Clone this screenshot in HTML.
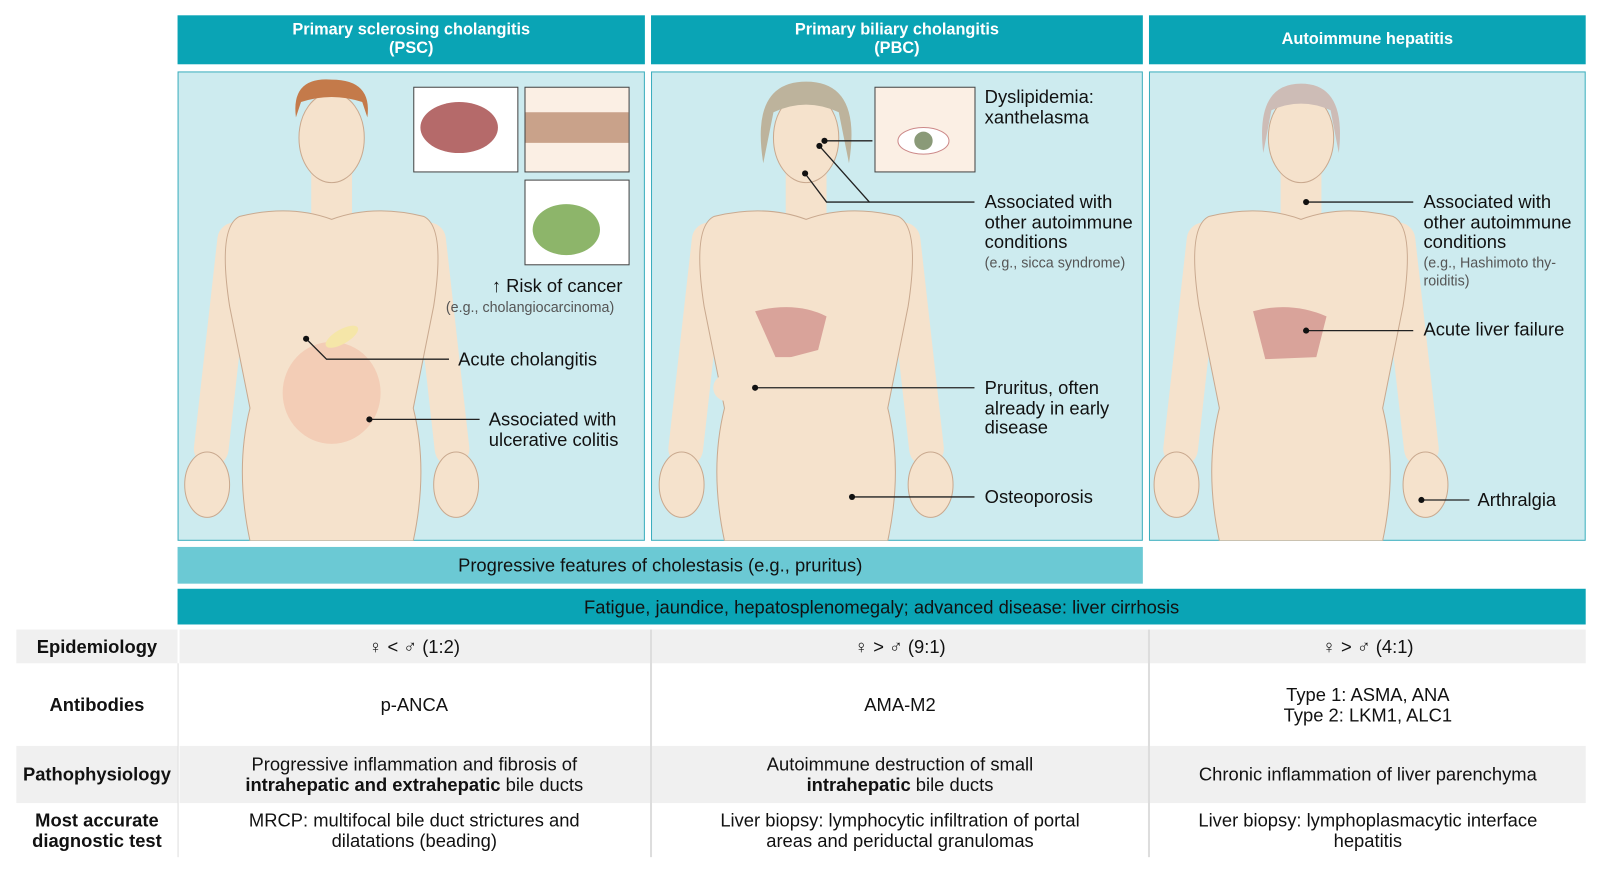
<!DOCTYPE html>
<html><head><meta charset="utf-8"><style>
*{margin:0;padding:0;box-sizing:border-box}
body{width:1600px;height:876px;background:#fff;overflow:hidden}
#w{position:absolute;left:0;top:0;width:1568px;height:858px;transform:scale(1.0204);transform-origin:0 0;font-family:"Liberation Sans","DejaVu Sans",sans-serif;color:#111}
.a{position:absolute}
.hd{background:#0aa4b5;color:#fff;font-weight:bold;font-size:16px;text-align:center;display:flex;align-items:center;justify-content:center;line-height:18px}
.c{display:flex;align-items:center;justify-content:center;text-align:center;font-size:18px;line-height:20px}
.lb{font-weight:bold}
.t{font-size:18px;line-height:19.5px}
.s{font-size:14px;color:#555;line-height:18px}
</style></head><body><div id="w">
<div class="a hd" style="left:174px;top:15px;width:458px;height:48px">Primary sclerosing cholangitis<br>(PSC)</div>
<div class="a hd" style="left:638px;top:15px;width:482px;height:48px">Primary biliary cholangitis<br>(PBC)</div>
<div class="a hd" style="left:1126px;top:15px;width:428px;height:48px">Autoimmune hepatitis</div>

<svg class="a" style="left:0;top:0" width="1568" height="858">
<defs>
<g id="body">
 <line x1="-95" y1="235" x2="-118" y2="440" stroke="#f5e2cc" stroke-width="34" stroke-linecap="round"/>
 <line x1="95" y1="235" x2="118" y2="440" stroke="#f5e2cc" stroke-width="34" stroke-linecap="round"/>
 <ellipse cx="-122" cy="475" rx="22" ry="32" fill="#f5e2cc" stroke="#c9a98f"/>
 <ellipse cx="122" cy="475" rx="22" ry="32" fill="#f5e2cc" stroke="#c9a98f"/>
 <rect x="-20" y="165" width="40" height="55" fill="#f5e2cc"/>
 <path d="M-90 212 Q-112 222 -100 300 L-80 400 Q-95 460 -80 530 L80 530 Q95 460 80 400 L100 300 Q112 222 90 212 Q40 200 0 215 Q-40 200 -90 212Z" fill="#f5e2cc" stroke="#c9a98f"/>
 <ellipse cx="0" cy="135" rx="32" ry="44" fill="#f5e2cc" stroke="#c9a98f"/>
</g>
</defs>
<rect x="174.5" y="70.5" width="457" height="459" fill="#cdebef" stroke="#3aaebd"/>
<rect x="638.5" y="70.5" width="481" height="459" fill="#cdebef" stroke="#3aaebd"/>
<rect x="1126.5" y="70.5" width="427" height="459" fill="#cdebef" stroke="#3aaebd"/>
<svg x="174" y="70" width="458" height="460" viewBox="174 70 458 460"><use href="#body" x="325"/>
<path d="M290 115 Q285 75 325 78 Q365 78 360 115 L355 100 Q325 90 295 100Z" fill="#c47a4a"/>
<ellipse cx="325" cy="385" rx="48" ry="50" fill="#f3cdb6"/><ellipse cx="335" cy="330" rx="18" ry="7" fill="#f5e6a8" transform="rotate(-30 335 330)"/></svg>
<svg x="638" y="70" width="482" height="460" viewBox="638 70 482 460"><use href="#body" x="790"/>
<path d="M748 160 Q735 80 790 80 Q845 80 832 160 L822 110 Q790 95 758 110Z" fill="#bdb39c"/>
<path d="M740 305 Q780 295 810 310 L800 350 L760 350Z" fill="#d9a39a"/>
<line x1="712" y1="380" x2="845" y2="345" stroke="#f5e2cc" stroke-width="26" stroke-linecap="round"/></svg>
<svg x="1126" y="70" width="428" height="460" viewBox="1126 70 428 460"><use href="#body" x="1275"/>
<path d="M1238 150 Q1230 82 1275 82 Q1320 82 1312 150 L1304 108 Q1275 95 1246 108Z" fill="#cdbcb6"/>
<path d="M1228 305 Q1265 295 1300 310 L1290 350 L1240 352Z" fill="#d9a39a"/></svg>
<rect x="405.5" y="85.5" width="102" height="83" fill="#fff" stroke="#444"/><ellipse cx="450" cy="125" rx="38" ry="25" fill="#b56a6a"/>
<rect x="514.5" y="85.5" width="102" height="83" fill="#fbefe4" stroke="#444"/><rect x="515" y="110" width="101" height="30" fill="#c9a28a"/>
<rect x="514.5" y="176.5" width="102" height="83" fill="#fff" stroke="#444"/><ellipse cx="555" cy="225" rx="33" ry="25" fill="#8db56a"/>
<rect x="857.5" y="85.5" width="98" height="83" fill="#fbefe4" stroke="#444"/><ellipse cx="905" cy="138" rx="25" ry="13" fill="#fff" stroke="#c88"/><circle cx="905" cy="138" r="9" fill="#8a9a78"/>
<g stroke="#222" stroke-width="1.3" fill="none">
<polyline points="300,332 320,352 440,352"/>
<line x1="362" y1="411" x2="470" y2="411"/>
<line x1="808" y1="138" x2="855" y2="138"/>
<polyline points="803,143 852,198 955,198"/><polyline points="789,170 810,198 852,198"/>
<line x1="740" y1="380" x2="955" y2="380"/><line x1="835" y1="487" x2="955" y2="487"/>
<line x1="1280" y1="198" x2="1385" y2="198"/><line x1="1280" y1="324" x2="1385" y2="324"/>
<line x1="1393" y1="490" x2="1440" y2="490"/>
</g>
<g fill="#111"><circle cx="300" cy="332" r="3"/><circle cx="362" cy="411" r="3"/><circle cx="808" cy="138" r="3"/><circle cx="803" cy="143" r="3"/><circle cx="789" cy="170" r="3"/><circle cx="740" cy="380" r="3"/><circle cx="835" cy="487" r="3"/><circle cx="1280" cy="198" r="3"/><circle cx="1280" cy="324" r="3"/><circle cx="1393" cy="490" r="3"/></g>
</svg>

<div class="a t" style="left:482px;top:271px">↑ Risk of cancer</div>
<div class="a s" style="left:437px;top:292px">(e.g., cholangiocarcinoma)</div>
<div class="a t" style="left:449px;top:343px">Acute cholangitis</div>
<div class="a t" style="left:479px;top:402px">Associated with<br>ulcerative colitis</div>
<div class="a t" style="left:965px;top:86px">Dyslipidemia:<br>xanthelasma</div>
<div class="a t" style="left:965px;top:189px">Associated with<br>other autoimmune<br>conditions</div>
<div class="a s" style="left:965px;top:248px">(e.g., sicca syndrome)</div>
<div class="a t" style="left:965px;top:371px">Pruritus, often<br>already in early<br>disease</div>
<div class="a t" style="left:965px;top:478px">Osteoporosis</div>
<div class="a t" style="left:1395px;top:189px">Associated with<br>other autoimmune<br>conditions</div>
<div class="a s" style="left:1395px;top:248px">(e.g., Hashimoto thy-<br>roiditis)</div>
<div class="a t" style="left:1395px;top:314px">Acute liver failure</div>
<div class="a t" style="left:1448px;top:481px">Arthralgia</div>

<div class="a c" style="left:174px;top:536px;width:946px;height:36px;background:#6bc9d4">Progressive features of cholestasis (e.g., pruritus)</div>
<div class="a c" style="left:174px;top:577px;width:1380px;height:35px;background:#0aa4b5">Fatigue, jaundice, hepatosplenomegaly; advanced disease: liver cirrhosis</div>

<div class="a" style="left:16px;top:617px;width:1538px;height:33px;background:#f0f0f0"></div>
<div class="a" style="left:16px;top:731px;width:1538px;height:56px;background:#f0f0f0"></div>
<div class="a" style="left:174px;top:617px;width:2px;height:223px;background:#fff"></div>
<div class="a" style="left:637px;top:617px;width:2px;height:223px;background:#ddd"></div>
<div class="a" style="left:1125px;top:617px;width:2px;height:223px;background:#ddd"></div>
<div class="a" style="left:174px;top:650px;width:1px;height:190px;background:#ddd"></div>

<div class="a c lb" style="left:16px;top:617px;width:158px;height:33px">Epidemiology</div>
<div class="a c lb" style="left:16px;top:650px;width:158px;height:81px">Antibodies</div>
<div class="a c lb" style="left:16px;top:731px;width:158px;height:56px">Pathophysiology</div>
<div class="a c lb" style="left:16px;top:787px;width:158px;height:53px">Most accurate<br>diagnostic test</div>

<div class="a c" style="left:175px;top:617px;width:462px;height:33px">♀ &lt; ♂ (1:2)</div>
<div class="a c" style="left:639px;top:617px;width:486px;height:33px">♀ &gt; ♂ (9:1)</div>
<div class="a c" style="left:1127px;top:617px;width:427px;height:33px">♀ &gt; ♂ (4:1)</div>
<div class="a c" style="left:175px;top:650px;width:462px;height:81px">p-ANCA</div>
<div class="a c" style="left:639px;top:650px;width:486px;height:81px">AMA-M2</div>
<div class="a c" style="left:1127px;top:650px;width:427px;height:81px"><span>Type 1: ASMA, ANA<br>Type 2: LKM1, ALC1</span></div>
<div class="a c" style="left:175px;top:731px;width:462px;height:56px"><span>Progressive inflammation and fibrosis of<br><b>intrahepatic and extrahepatic</b> bile ducts</span></div>
<div class="a c" style="left:639px;top:731px;width:486px;height:56px"><span>Autoimmune destruction of small<br><b>intrahepatic</b> bile ducts</span></div>
<div class="a c" style="left:1127px;top:731px;width:427px;height:56px">Chronic inflammation of liver parenchyma</div>
<div class="a c" style="left:175px;top:787px;width:462px;height:53px"><span>MRCP: multifocal bile duct strictures and<br>dilatations (beading)</span></div>
<div class="a c" style="left:639px;top:787px;width:486px;height:53px"><span>Liver biopsy: lymphocytic infiltration of portal<br>areas and periductal granulomas</span></div>
<div class="a c" style="left:1127px;top:787px;width:427px;height:53px"><span>Liver biopsy: lymphoplasmacytic interface<br>hepatitis</span></div>
</div></body></html>
